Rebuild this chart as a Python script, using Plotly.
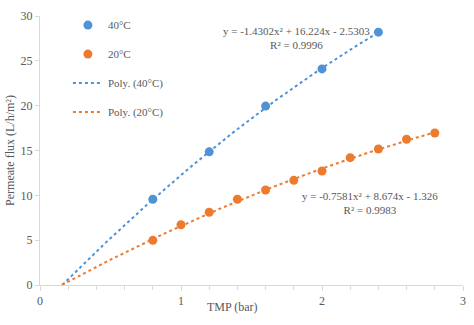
import numpy as np
import plotly.graph_objects as go

# Data
tmp_40 = [0.8, 1.2, 1.6, 2.0, 2.4]
flux_40 = [9.55, 14.85, 19.95, 24.1, 28.2]
tmp_20 = [0.8, 1.0, 1.2, 1.4, 1.6, 1.8, 2.0, 2.2, 2.4, 2.6, 2.8]
flux_20 = [4.98, 6.72, 8.11, 9.56, 10.59, 11.67, 12.71, 14.2, 15.17, 16.25, 16.95]

# Trendline coefficients (as displayed on the chart): a*x^2 + b*x + c
coef_40 = [-1.4302, 16.224, -2.5303]
coef_20 = [-0.7581, 8.674, -1.326]
r2_40 = "0.9996"
r2_20 = "0.9983"

BLUE = "#4F92D6"
ORANGE = "#EC7B30"
GRAY = "#595959"
FONT = "Liberation Serif"


def trend(coef, xmax):
    roots = np.roots(coef)
    roots = [r.real for r in roots if abs(r.imag) < 1e-9 and 0 < r.real < xmax]
    x0 = min(roots) if roots else 0
    xs = np.linspace(x0, xmax, 120)
    return xs, np.polyval(coef, xs)


fig = go.Figure()
tx, ty = trend(coef_40, max(tmp_40))
fig.add_trace(go.Scatter(x=tx, y=ty, mode="lines", name="Poly. (40°C)",
                         legendgroup="c", legendrank=3,
                         line=dict(color=BLUE, width=2, dash="dot")))
tx, ty = trend(coef_20, max(tmp_20))
fig.add_trace(go.Scatter(x=tx, y=ty, mode="lines", name="Poly. (20°C)",
                         legendgroup="d", legendrank=4,
                         line=dict(color=ORANGE, width=2, dash="dot")))
fig.add_trace(go.Scatter(x=tmp_40, y=flux_40, mode="markers", name="40°C",
                         legendgroup="a", legendrank=1,
                         marker=dict(color=BLUE, size=9)))
fig.add_trace(go.Scatter(x=tmp_20, y=flux_20, mode="markers", name="20°C",
                         legendgroup="b", legendrank=2,
                         marker=dict(color=ORANGE, size=9)))


def eq_text(c, r2):
    return (f"y = {c[0]}x² + {c[1]}x - {abs(c[2])}<br>R² = {r2}")


fig.add_annotation(x=1.82, y=27.5, xref="x", yref="y", text=eq_text(coef_40, r2_40),
                   showarrow=False, font=dict(family=FONT, size=11, color=GRAY),
                   align="center")
fig.add_annotation(x=2.34, y=9.2, xref="x", yref="y", text=eq_text(coef_20, r2_20),
                   showarrow=False, font=dict(family=FONT, size=11, color=GRAY),
                   align="center")
# x-axis title (offset left as in the original)
fig.add_annotation(x=0.454, y=-0.082, xref="paper", yref="paper", text="TMP (bar)",
                   showarrow=False, xanchor="center", yanchor="middle",
                   font=dict(family=FONT, size=12, color=GRAY))

fig.update_layout(
    width=474, height=325,
    margin=dict(l=40, r=11, t=16, b=40),
    paper_bgcolor="white", plot_bgcolor="white",
    font=dict(family=FONT, size=12, color=GRAY),
    legend=dict(x=0.066, y=1.02, xanchor="left", yanchor="top",
                traceorder="grouped", tracegroupgap=10,
                bgcolor="rgba(0,0,0,0)", font=dict(family=FONT, size=11, color=GRAY)),
    xaxis=dict(range=[0, 3], dtick=1, showgrid=False, zeroline=False, automargin=False,
               showline=True, linecolor="#D9D9D9", linewidth=1,
               ticks="outside", ticklen=5, tickcolor="#D9D9D9",
               minor=dict(dtick=0.2, ticks="outside", ticklen=4, tickcolor="#D9D9D9"),
               tickfont=dict(family=FONT, size=12, color=GRAY)),
    yaxis=dict(range=[0, 30], dtick=5, showgrid=False, zeroline=False, automargin=False,
               showline=True, linecolor="#D9D9D9", linewidth=1,
               ticks="outside", ticklen=4, tickcolor="#D9D9D9",
               title=dict(text="Permeate flux (L/h/m²)", standoff=3,
                          font=dict(family=FONT, size=12, color=GRAY)),
               tickfont=dict(family=FONT, size=12, color=GRAY)),
)

fig.write_html("out.html")
